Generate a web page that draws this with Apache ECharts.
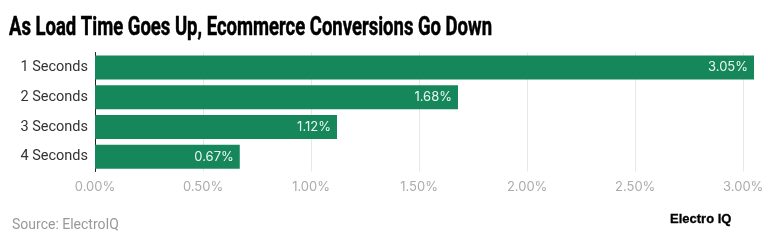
<!DOCTYPE html>
<html>
<head>
<meta charset="utf-8">
<script src="https://cdn.jsdelivr.net/npm/echarts@6/dist/echarts.min.js"></script>
<style>
html,body{margin:0;padding:0;background:#fff;}
#chart{width:768px;height:245px;}
</style>
</head>
<body>
<div id="chart"></div>
<script>
const titleText = 'As Load Time Goes Up, Ecommerce Conversions Go Down';
const categories = ['1 Seconds', '2 Seconds', '3 Seconds', '4 Seconds'];
const values = [3.05, 1.68, 1.12, 0.67];
const axisMin = 0;
const axisMax = 3.05;
const axisInterval = 0.5;
const sourceText = 'Source: ElectroIQ';
const logoText = 'Electro IQ';

const titleFont = 'bold 25px Roboto';
const cv = document.createElement('canvas').getContext('2d');
cv.font = titleFont;
const titleW = cv.measureText(titleText).width;
const titleScale = 483 / titleW;

const chart = echarts.init(document.getElementById('chart'), null, {renderer: 'canvas'});
const splitColors = [];
for (let i = 0; i < 7; i++) splitColors.push('#e8e8e8');
splitColors.push('rgba(0,0,0,0)');

chart.setOption({
  animation: false,
  backgroundColor: '#ffffff',
  grid: {left: 95, right: 14, top: 52.5, bottom: 73.5, containLabel: false},
  xAxis: {
    type: 'value',
    min: axisMin,
    max: axisMax,
    interval: axisInterval,
    axisLine: {show: false},
    axisTick: {show: false},
    splitLine: {show: true, lineStyle: {color: splitColors, width: 1}},
    axisLabel: {
      showMaxLabel: false,
      color: '#ababab',
      fontFamily: 'Inter',
      fontSize: 13,
      margin: 9,
      formatter: v => v.toFixed(2) + '%'
    }
  },
  yAxis: {
    type: 'category',
    data: categories,
    inverse: true,
    axisLine: {show: true, lineStyle: {color: '#222', width: 1}},
    axisTick: {show: false},
    axisLabel: {color: '#333', fontFamily: 'Roboto', fontSize: 14.5, margin: 7}
  },
  series: [{
    type: 'bar',
    data: values,
    barWidth: 24,
    itemStyle: {color: '#15875b'},
    label: {
      show: true,
      position: 'insideRight',
      distance: 6,
      color: '#eef7f2',
      fontFamily: 'Inter',
      fontSize: 13,
      formatter: p => p.value.toFixed(2) + '%'
    }
  }],
  graphic: [
    {type: 'text', x: 9, y: 29, scaleX: titleScale, scaleY: 1,
     style: {text: titleText, font: titleFont, fill: '#000', stroke: '#000', lineWidth: 0.5, align: 'left', verticalAlign: 'middle'}},
    {type: 'text', x: 12, y: 225,
     style: {text: sourceText, font: '14px Roboto', fill: '#999', align: 'left', verticalAlign: 'middle'}},
    {type: 'text', x: 670, y: 219,
     style: {text: logoText, font: 'bold 13px "Liberation Sans"', fill: '#000', stroke: '#000', lineWidth: 0.3, align: 'left', verticalAlign: 'middle'}}
  ]
});
</script>
</body>
</html>
